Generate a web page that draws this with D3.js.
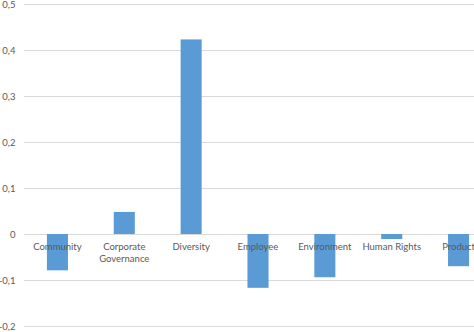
<!DOCTYPE html>
<html>
<head>
<meta charset="utf-8">
<script src="https://cdn.jsdelivr.net/npm/d3@7"></script>
<style>
  html, body { margin: 0; padding: 0; background: #fff; overflow: hidden; }
  svg { display: block; }
</style>
</head>
<body>
<svg id="chart" width="474" height="332"></svg>
<script>
// Category labels and their values
const categories = ["Community", "Corporate Governance", "Diversity", "Employee", "Environment", "Human Rights", "Product"];
const values = [-0.079, 0.048, 0.423, -0.117, -0.094, -0.011, -0.070];
const yTicks = [-0.2, -0.1, 0, 0.1, 0.2, 0.3, 0.4, 0.5];

const svg = d3.select("#chart");
const plotLeft = 24, plotRight = 492;   // plot area runs past the right edge
// Decimal comma and a plain hyphen for negatives
const fmt = v => v === 0 ? "0" : d3.format(".1f")(v).replace(".", ",").replace("\u2212", "-");

const y = d3.scaleLinear().domain([-0.2, 0.5]).range([326, 4]);
const x = d3.scaleBand().domain(categories).range([plotLeft, plotRight])
  .paddingInner(0.685).paddingOuter(0.3425);

// Horizontal gridlines
svg.append("g")
  .selectAll("line")
  .data(yTicks)
  .join("line")
  .attr("x1", plotLeft).attr("x2", 474)
  .attr("y1", d => Math.round(y(d)) + 0.5).attr("y2", d => Math.round(y(d)) + 0.5)
  .attr("stroke", "#d9d9d9").attr("stroke-width", 1);

// Y axis labels
const yAxis = d3.axisLeft(y).tickValues(yTicks).tickFormat(fmt).tickSize(0).tickPadding(0);
const yg = svg.append("g").attr("transform", "translate(15.5,0)").call(yAxis);
yg.select(".domain").remove();
yg.selectAll("text")
  .attr("fill", "#595959")
  .style("font-family", "Lato, 'Open Sans', sans-serif")
  .style("font-size", "9.5px");

// Bars
svg.append("g")
  .selectAll("rect")
  .data(categories)
  .join("rect")
  .attr("x", d => x(d))
  .attr("width", x.bandwidth())
  .attr("y", (d, i) => y(Math.max(0, values[i])))
  .attr("height", (d, i) => Math.abs(y(values[i]) - y(0)))
  .attr("fill", "#5b9bd5");

// Category labels, drawn over the bars, wrapped on two lines where needed
const labelLines = {"Corporate Governance": ["Corporate", "Governance"]};
const lg = svg.append("g");
categories.forEach(c => {
  const lines = labelLines[c] || [c];
  const t = lg.append("text")
    .attr("x", x(c) + x.bandwidth() / 2)
    .attr("y", 250)
    .attr("text-anchor", "middle")
    .attr("fill", "#595959")
    .style("font-family", "Lato, 'Open Sans', sans-serif")
    .style("font-size", "9.5px");
  lines.forEach((l, i) => {
    t.append("tspan")
      .attr("x", x(c) + x.bandwidth() / 2)
      .attr("dy", i === 0 ? 0 : 12)
      .text(l);
  });
});
</script>
</body>
</html>
